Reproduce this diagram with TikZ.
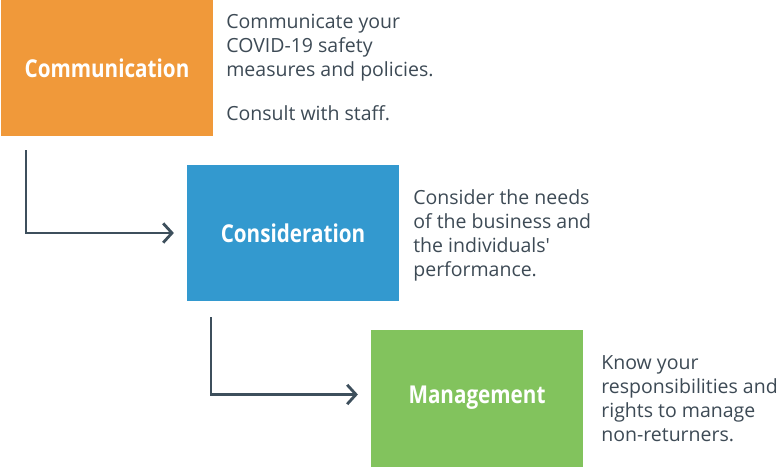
\documentclass[tikz,border=0pt]{standalone}
\usepackage{fontspec}
\setmainfont{Open Sans}
\newfontfamily\headfont[FakeStretch=0.84]{Open Sans}
\usetikzlibrary{positioning,arrows.meta}
\definecolor{boxorange}{HTML}{F0993A}
\definecolor{boxblue}{HTML}{3399CF}
\definecolor{boxgreen}{HTML}{82C35D}
\definecolor{inkgray}{HTML}{3D4A55}
\definecolor{arrowgray}{HTML}{3D4F5C}
\tikzset{
  stage/.style={fill=#1, minimum width=4.26cm, minimum height=2.74cm, inner sep=0pt,
    text=white, font=\headfont\bfseries\fontsize{14}{16}\selectfont},
  note/.style={anchor=north west, inner sep=0pt, align=left, text=inkgray,
    font=\fontsize{11.1}{13.7}\selectfont},
  flow/.style={draw=arrowgray, line width=1.6pt, -{Straight Barb[length=5pt,width=11pt]}}
}
\begin{document}
\begin{tikzpicture}[x=0.02cm, y=-0.02cm]
  \useasboundingbox (0,0) rectangle (780,468);

  \node[stage=boxorange] (comm) at (107,68) {Communication};
  \node[stage=boxblue] (cons) at (293,233) {Consideration};
  \node[stage=boxgreen] (mgmt) at (477,398) {Management};

  \node[note] (commtxt) at (226,14) {Communicate your\\COVID-19 safety\\measures and policies.\\[11pt]Consult with staff.};
  \node[note] (constxt) at (413,189) {Consider the needs\\of the business and\\the individuals\textquotesingle\\performance.};
  \node[note] (mgmttxt) at (601,355) {Know your\\responsibilities and\\rights to manage\\non-returners.};

  \coordinate (a1) at (26,150);
  \coordinate (a2) at (211,317);
  \draw[flow] (a1) |- ([xshift=-7]cons.west);
  \draw[flow] (a2) |- ([xshift=-7,yshift=2]mgmt.west);
\end{tikzpicture}
\end{document}
